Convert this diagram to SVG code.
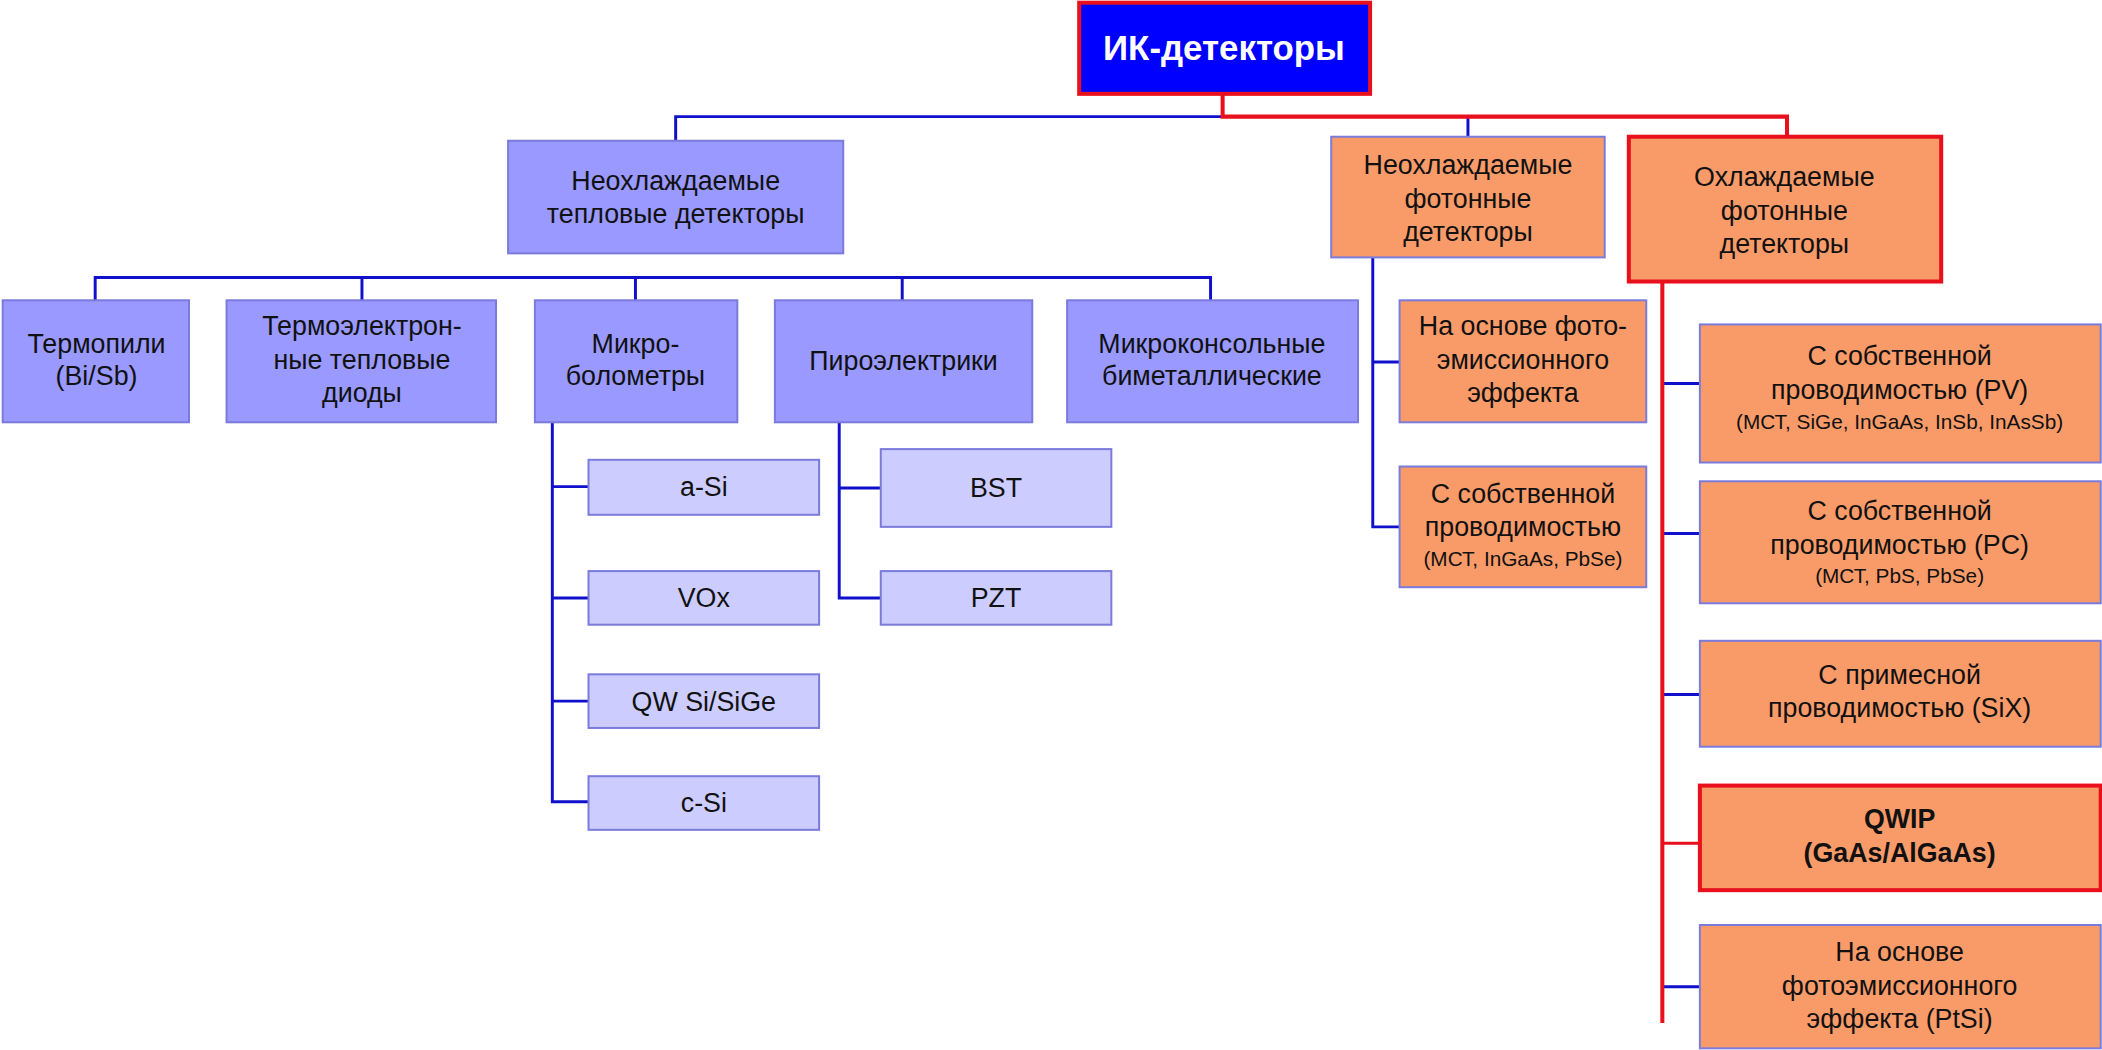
<svg xmlns="http://www.w3.org/2000/svg" width="2102" height="1050" viewBox="0 0 2102 1050">
<style>
text{font-family:"Liberation Sans",Arial,sans-serif;font-size:20px;fill:#111;text-anchor:middle}
.s{font-size:15.5px}
.b{font-weight:bold}
.v{fill:#9999ff;stroke:#7b7bdc;stroke-width:1.5}
.l{fill:#ccccff;stroke:#7b7bdc;stroke-width:1.5}
.o{fill:#f99b69;stroke:#7b7bdc;stroke-width:1.5}
.r{stroke:#e8101c;stroke-width:3}
.cb{fill:none;stroke:#1010cc;stroke-width:2.2}
.cr{fill:none;stroke:#e8101c;stroke-width:3}
</style>
<rect width="2102" height="1050" fill="#fff"/>
<g transform="scale(1.3406)">
<g id="connectors">
<path class="cb" d="M504,105V87H912M1095,87V102"/>
<path class="cb" d="M71,224V207H903V224M270,207V224M474,207V224M673,207V224"/>
<path class="cb" d="M412,315V598H439M412,363H439M412,446H439M412,523H439"/>
<path class="cb" d="M626,315V446H657M626,364H657"/>
<path class="cb" d="M1024,192V393H1044M1024,270H1044"/>
<path class="cb" d="M1240,286H1268M1240,398H1268M1240,518H1268M1240,736H1268"/>
<path class="cr" d="M912,70V87H1333V102"/>
<path class="cr" d="M1240,210V763"/>
<path class="cb" d="M1240,629H1268" style="stroke:#e8101c"/>
</g>
<g id="root"><rect x="805" y="2" width="217" height="68" fill="#0000ff" class="r"/><text x="913" y="45" class="b" style="font-size:26px;fill:#fff">ИК-детекторы</text></g>
<g id="n1"><rect class="v" x="379" y="105" width="250" height="84"/><text x="504" y="142">Неохлаждаемые</text><text x="504" y="166">тепловые детекторы</text></g>
<g id="n2"><rect class="o" x="993" y="102" width="204" height="90"/><text x="1095" y="130">Неохлаждаемые</text><text x="1095" y="155">фотонные</text><text x="1095" y="180">детекторы</text></g>
<g id="n3"><rect class="o r" x="1215" y="102" width="233" height="108"/><text x="1331" y="139">Охлаждаемые</text><text x="1331" y="164">фотонные</text><text x="1331" y="189">детекторы</text></g>
<g id="t1"><rect class="v" x="2" y="224" width="139" height="91"/><text x="72" y="263">Термопили</text><text x="72" y="287">(Bi/Sb)</text></g>
<g id="t2"><rect class="v" x="169" y="224" width="201" height="91"/><text x="270" y="250">Термоэлектрон-</text><text x="270" y="275">ные тепловые</text><text x="270" y="300">диоды</text></g>
<g id="t3"><rect class="v" x="399" y="224" width="151" height="91"/><text x="474" y="263">Микро-</text><text x="474" y="287">болометры</text></g>
<g id="t4"><rect class="v" x="578" y="224" width="192" height="91"/><text x="674" y="276">Пироэлектрики</text></g>
<g id="t5"><rect class="v" x="796" y="224" width="217" height="91"/><text x="904" y="263">Микроконсольные</text><text x="904" y="287">биметаллические</text></g>
<g id="m1"><rect class="l" x="439" y="343" width="172" height="41"/><text x="525" y="370">a-Si</text></g>
<g id="m2"><rect class="l" x="439" y="426" width="172" height="40"/><text x="525" y="453">VOx</text></g>
<g id="m3"><rect class="l" x="439" y="503" width="172" height="40"/><text x="525" y="530">QW Si/SiGe</text></g>
<g id="m4"><rect class="l" x="439" y="579" width="172" height="40"/><text x="525" y="606">c-Si</text></g>
<g id="p1"><rect class="l" x="657" y="335" width="172" height="58"/><text x="743" y="371">BST</text></g>
<g id="p2"><rect class="l" x="657" y="426" width="172" height="40"/><text x="743" y="453">PZT</text></g>
<g id="u1"><rect class="o" x="1044" y="224" width="184" height="91"/><text x="1136" y="250">На основе фото-</text><text x="1136" y="275">эмиссионного</text><text x="1136" y="300">эффекта</text></g>
<g id="u2"><rect class="o" x="1044" y="348" width="184" height="90"/><text x="1136" y="375">С собственной</text><text x="1136" y="400">проводимостью</text><text x="1136" y="422" class="s">(МСТ, InGaAs, PbSe)</text></g>
<g id="c1"><rect class="o" x="1268" y="242" width="299" height="103"/><text x="1417" y="272">С собственной</text><text x="1417" y="298">проводимостью (PV)</text><text x="1417" y="320" class="s">(МСТ, SiGe, InGaAs, InSb, InAsSb)</text></g>
<g id="c2"><rect class="o" x="1268" y="359" width="299" height="91"/><text x="1417" y="388">С собственной</text><text x="1417" y="413">проводимостью (PC)</text><text x="1417" y="435" class="s">(МСТ, PbS, PbSe)</text></g>
<g id="c3"><rect class="o" x="1268" y="478" width="299" height="79"/><text x="1417" y="510">С примесной</text><text x="1417" y="535">проводимостью (SiX)</text></g>
<g id="c4"><rect class="o r" x="1268" y="586" width="299" height="78"/><text x="1417" y="618" class="b">QWIP</text><text x="1417" y="643" class="b">(GaAs/AlGaAs)</text></g>
<g id="c5"><rect class="o" x="1268" y="690" width="299" height="92"/><text x="1417" y="717">На основе</text><text x="1417" y="742">фотоэмиссионного</text><text x="1417" y="767">эффекта (PtSi)</text></g>
</g>
</svg>
